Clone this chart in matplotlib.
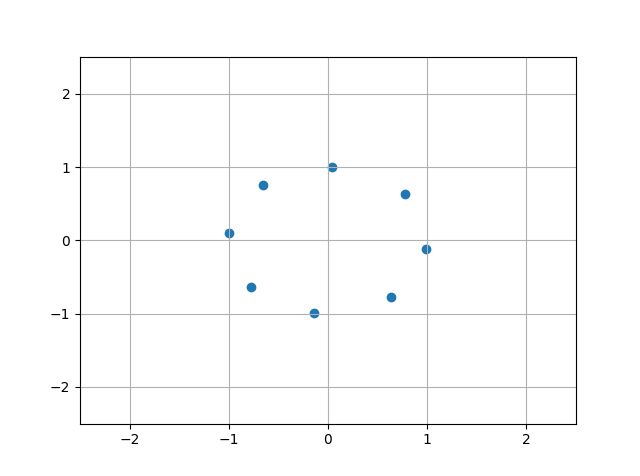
import matplotlib
matplotlib.use("Agg")
import matplotlib.pyplot as plt

# point coordinates
xs = [0.04, 0.78, 0.99, 0.64, -0.14, -0.78, -1.0, -0.66]
ys = [1.0, 0.63, -0.12, -0.77, -0.99, -0.64, 0.10, 0.75]

fig, ax = plt.subplots(figsize=(6.4, 4.76), dpi=100)
ax.scatter(xs, ys)
ax.set_xlim(-2.5, 2.5)
ax.set_ylim(-2.5, 2.5)
ax.grid(True)
fig.savefig("out.png")
